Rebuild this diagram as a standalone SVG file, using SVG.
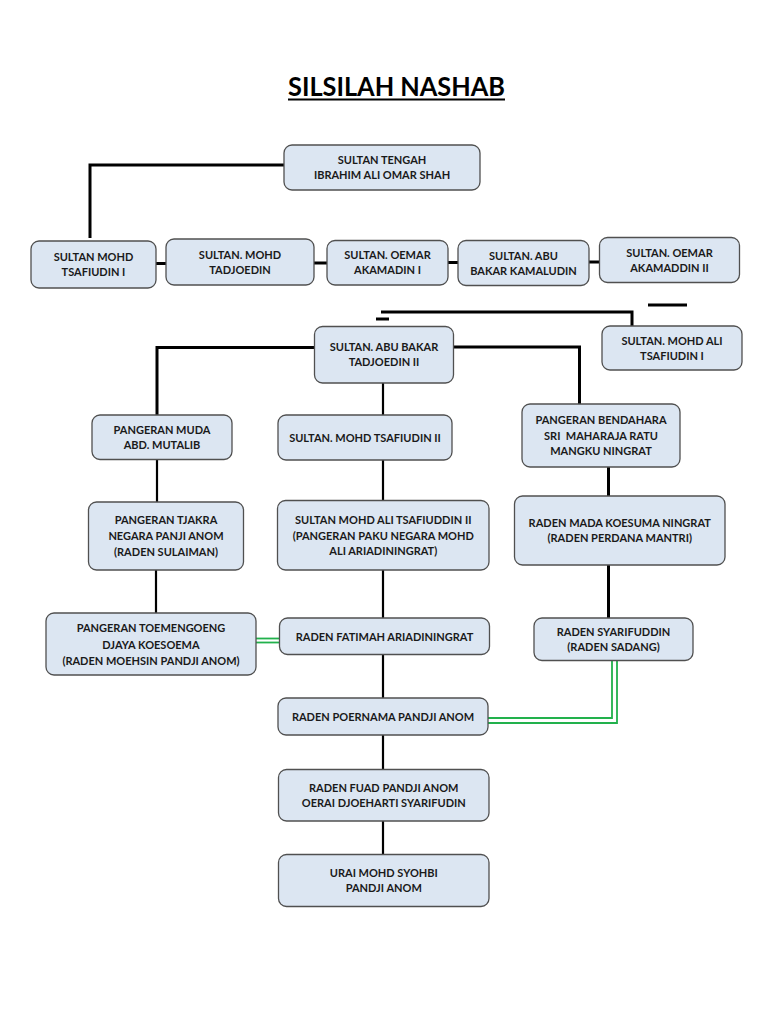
<svg xmlns="http://www.w3.org/2000/svg" width="768" height="1024" viewBox="0 0 768 1024">
<style>
.box{fill:#dce6f2;stroke:#505050;stroke-width:1.3}
.t{font-family:Lato,"Open Sans","Liberation Sans",sans-serif;font-weight:bold;font-size:11px;fill:#1a1a1a;text-anchor:middle}
.ln{fill:none;stroke:#000;stroke-width:2.2}
.lt{fill:none;stroke:#000;stroke-width:3}
.g{fill:none;stroke:#22b14c;stroke-width:1.8}
.title{font-family:Lato,"Open Sans","Liberation Sans",sans-serif;font-weight:bold;font-size:27px;fill:#000;text-anchor:middle}
</style>
<rect width="768" height="1024" fill="#fff"/>
<text class="title" x="396.5" y="96" textLength="217" lengthAdjust="spacingAndGlyphs">SILSILAH NASHAB</text>
<line x1="288" y1="99.5" x2="505" y2="99.5" stroke="#000" stroke-width="2"/>
<g id="connectors">
<polyline class="lt" points="284,165 90,165 90,238"/>
<line class="lt" x1="156" y1="263.5" x2="166" y2="263.5"/>
<line class="lt" x1="314" y1="263" x2="327" y2="263"/>
<line class="lt" x1="448" y1="262.5" x2="458" y2="262.5"/>
<line class="lt" x1="589" y1="262" x2="600" y2="262"/>
<polyline class="lt" points="381,312 632,312 632,326"/>
<line class="lt" x1="376" y1="319" x2="389" y2="319"/>
<line class="lt" x1="648" y1="305" x2="687" y2="305"/>
<polyline class="lt" points="314.5,347.5 157,347.5 157,415"/>
<polyline class="lt" points="453.5,347 579.5,347 579.5,404"/>
<line class="ln" x1="383" y1="383" x2="383" y2="415"/>
<line class="ln" x1="157" y1="459.5" x2="157" y2="502"/>
<line class="ln" x1="383" y1="460" x2="383" y2="500.5"/>
<line class="lt" x1="608.5" y1="467" x2="608.5" y2="496"/>
<line class="ln" x1="156" y1="570" x2="156" y2="613"/>
<line class="ln" x1="383" y1="570" x2="383" y2="618"/>
<line class="lt" x1="608.5" y1="565" x2="608.5" y2="618"/>
<line class="ln" x1="383" y1="654.5" x2="383" y2="698"/>
<line class="ln" x1="383" y1="735" x2="383" y2="769.5"/>
<line class="ln" x1="383" y1="821" x2="383" y2="854.5"/>
<line class="g" x1="256" y1="638.5" x2="279.5" y2="638.5"/>
<line class="g" x1="256" y1="642.5" x2="279.5" y2="642.5"/>
<polyline class="g" points="488,718 612,718 612,660.5"/>
<polyline class="g" points="488,723 617,723 617,660.5"/>
</g>
<g id="n-tengah"><rect class="box" x="284" y="145" width="196" height="45" rx="8"/><text class="t" x="382" y="164">SULTAN TENGAH</text><text class="t" x="382" y="179">IBRAHIM ALI OMAR SHAH</text></g>
<g id="n-tsafiudin1"><rect class="box" x="31" y="241" width="125" height="47" rx="8"/><text class="t" x="93.5" y="261">SULTAN MOHD</text><text class="t" x="93.5" y="276">TSAFIUDIN I</text></g>
<g id="n-tadjoedin"><rect class="box" x="166" y="239" width="148" height="46" rx="8"/><text class="t" x="240" y="259">SULTAN. MOHD</text><text class="t" x="240" y="274">TADJOEDIN</text></g>
<g id="n-akamadin1"><rect class="box" x="327" y="240.5" width="121" height="44.5" rx="8"/><text class="t" x="387.5" y="259">SULTAN. OEMAR</text><text class="t" x="387.5" y="274">AKAMADIN I</text></g>
<g id="n-kamaludin"><rect class="box" x="458" y="240.5" width="131" height="45" rx="8"/><text class="t" x="523.5" y="259.5">SULTAN. ABU</text><text class="t" x="523.5" y="274.5">BAKAR KAMALUDIN</text></g>
<g id="n-akamaddin2"><rect class="box" x="599.5" y="237.5" width="140" height="45" rx="8"/><text class="t" x="669.5" y="256.5">SULTAN. OEMAR</text><text class="t" x="669.5" y="271.5">AKAMADDIN II</text></g>
<g id="n-mohdali1"><rect class="box" x="602" y="326" width="140" height="44" rx="8"/><text class="t" x="672" y="344.5">SULTAN. MOHD ALI</text><text class="t" x="672" y="359.5">TSAFIUDIN I</text></g>
<g id="n-abubakar2"><rect class="box" x="314.5" y="326.5" width="139" height="56.5" rx="8"/><text class="t" x="384" y="351">SULTAN. ABU BAKAR</text><text class="t" x="384" y="366">TADJOEDIN II</text></g>
<g id="n-muda"><rect class="box" x="92" y="415" width="140" height="44.5" rx="8"/><text class="t" x="162" y="433.5">PANGERAN MUDA</text><text class="t" x="162" y="448.5">ABD. MUTALIB</text></g>
<g id="n-tsafiudin2"><rect class="box" x="278" y="415" width="174" height="45" rx="8"/><text class="t" x="365" y="441.5">SULTAN. MOHD TSAFIUDIN II</text></g>
<g id="n-bendahara"><rect class="box" x="522" y="404" width="158" height="63" rx="8"/><text class="t" x="601" y="424">PANGERAN BENDAHARA</text><text class="t" x="601" y="439.5" xml:space="preserve">SRI  MAHARAJA RATU</text><text class="t" x="601" y="455">MANGKU NINGRAT</text></g>
<g id="n-tjakra"><rect class="box" x="88.5" y="502" width="155" height="68" rx="8"/><text class="t" x="166" y="524">PANGERAN TJAKRA</text><text class="t" x="166" y="539.5">NEGARA PANJI ANOM</text><text class="t" x="166" y="555.5">(RADEN SULAIMAN)</text></g>
<g id="n-mohdali2"><rect class="box" x="277.5" y="500.5" width="211.5" height="69.5" rx="8"/><text class="t" x="383.25" y="524">SULTAN MOHD ALI TSAFIUDDIN II</text><text class="t" x="383.25" y="540">(PANGERAN PAKU NEGARA MOHD</text><text class="t" x="383.25" y="555">ALI ARIADININGRAT)</text></g>
<g id="n-mada"><rect class="box" x="514.5" y="496" width="210.5" height="69" rx="8"/><text class="t" x="619.75" y="526.5">RADEN MADA KOESUMA NINGRAT</text><text class="t" x="619.75" y="542">(RADEN PERDANA MANTRI)</text></g>
<g id="n-toemengoeng"><rect class="box" x="46" y="613" width="210" height="62" rx="8"/><text class="t" x="151" y="632">PANGERAN TOEMENGOENG</text><text class="t" x="151" y="648.5">DJAYA KOESOEMA</text><text class="t" x="151" y="665">(RADEN MOEHSIN PANDJI ANOM)</text></g>
<g id="n-fatimah"><rect class="box" x="279.5" y="618" width="210" height="36.5" rx="8"/><text class="t" x="384.5" y="640.5">RADEN FATIMAH ARIADININGRAT</text></g>
<g id="n-syarifuddin"><rect class="box" x="534" y="618" width="159" height="42.5" rx="8"/><text class="t" x="613.5" y="635.5">RADEN SYARIFUDDIN</text><text class="t" x="613.5" y="651">(RADEN SADANG)</text></g>
<g id="n-poernama"><rect class="box" x="278" y="698" width="210" height="37" rx="8"/><text class="t" x="383" y="720.5">RADEN POERNAMA PANDJI ANOM</text></g>
<g id="n-fuad"><rect class="box" x="278.5" y="769.5" width="210.5" height="51.5" rx="8"/><text class="t" x="383.75" y="791.5">RADEN FUAD PANDJI ANOM</text><text class="t" x="383.75" y="807">OERAI DJOEHARTI SYARIFUDIN</text></g>
<g id="n-urai"><rect class="box" x="278.5" y="854.5" width="210.5" height="52" rx="8"/><text class="t" x="383.75" y="877">URAI MOHD SYOHBI</text><text class="t" x="383.75" y="891.5">PANDJI ANOM</text></g>
</svg>
